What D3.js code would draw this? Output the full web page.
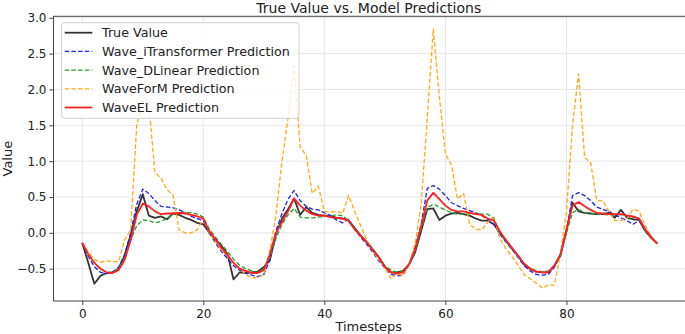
<!DOCTYPE html>
<html><head><meta charset="utf-8">
<script src="https://cdn.jsdelivr.net/npm/d3@7"></script>
<style>
html,body{margin:0;padding:0;background:#fff;}
svg{display:block;font-family:"DejaVu Sans",sans-serif;}
</style></head>
<body><svg id="c" width="685" height="334"></svg>
<script>
const timesteps = d3.range(0, 96);
const trueValue = [-0.14,-0.42,-0.71,-0.6,-0.56,-0.55,-0.5,-0.32,-0.03,0.3,0.54,0.24,0.21,0.23,0.19,0.27,0.25,0.21,0.18,0.14,0.12,0.0,-0.09,-0.18,-0.3,-0.65,-0.55,-0.56,-0.55,-0.54,-0.48,-0.38,-0.02,0.2,0.33,0.48,0.25,0.36,0.28,0.25,0.24,0.24,0.21,0.2,0.17,0.07,-0.04,-0.13,-0.23,-0.34,-0.47,-0.55,-0.55,-0.53,-0.44,-0.27,0.03,0.33,0.34,0.18,0.24,0.27,0.28,0.26,0.24,0.2,0.17,0.17,0.12,0.0,-0.11,-0.22,-0.32,-0.44,-0.5,-0.54,-0.55,-0.55,-0.46,-0.32,0.03,0.42,0.3,0.28,0.27,0.26,0.26,0.28,0.21,0.32,0.21,0.19,0.18,0.03,-0.07,-0.15];
const iTransformer = [-0.14,-0.33,-0.47,-0.55,-0.57,-0.55,-0.48,-0.3,0.0,0.4,0.61,0.55,0.45,0.37,0.36,0.35,0.32,0.28,0.23,0.2,0.17,0.0,-0.14,-0.26,-0.36,-0.46,-0.52,-0.56,-0.59,-0.61,-0.58,-0.38,0.03,0.27,0.47,0.59,0.45,0.37,0.33,0.32,0.28,0.24,0.18,0.14,0.19,0.05,-0.06,-0.16,-0.27,-0.39,-0.49,-0.58,-0.6,-0.59,-0.44,-0.2,0.12,0.62,0.66,0.61,0.52,0.42,0.38,0.34,0.31,0.28,0.24,0.19,0.12,-0.02,-0.13,-0.23,-0.34,-0.46,-0.53,-0.58,-0.59,-0.58,-0.48,-0.3,0.03,0.52,0.56,0.52,0.45,0.36,0.33,0.3,0.25,0.21,0.17,0.12,0.17,0.03,-0.07,-0.15];
const dLinear = [-0.14,-0.3,-0.42,-0.5,-0.55,-0.55,-0.5,-0.35,-0.1,0.1,0.18,0.17,0.14,0.16,0.2,0.26,0.28,0.29,0.28,0.26,0.22,0.05,-0.06,-0.16,-0.26,-0.37,-0.45,-0.5,-0.53,-0.55,-0.5,-0.35,-0.08,0.12,0.25,0.34,0.22,0.21,0.21,0.22,0.23,0.24,0.25,0.24,0.17,0.07,-0.04,-0.13,-0.23,-0.34,-0.46,-0.52,-0.55,-0.53,-0.44,-0.25,0.05,0.35,0.4,0.36,0.32,0.28,0.26,0.26,0.27,0.27,0.26,0.26,0.2,0.0,-0.11,-0.22,-0.32,-0.43,-0.49,-0.53,-0.54,-0.53,-0.45,-0.3,0.0,0.28,0.33,0.28,0.27,0.26,0.26,0.25,0.25,0.25,0.24,0.22,0.2,0.03,-0.07,-0.15];
const waveForM = [-0.14,-0.27,-0.37,-0.41,-0.39,-0.4,-0.4,-0.1,0.05,1.5,1.85,1.8,0.84,0.77,0.6,0.53,0.04,0.0,0.0,0.04,0.2,0.0,-0.12,-0.24,-0.33,-0.42,-0.5,-0.58,-0.63,-0.62,-0.58,-0.25,0.25,1.0,1.6,2.33,1.2,1.08,0.55,0.65,0.3,0.29,0.3,0.27,0.52,0.3,0.1,-0.1,-0.25,-0.37,-0.48,-0.64,-0.57,-0.6,-0.45,-0.15,0.4,1.6,2.84,1.9,1.1,0.95,0.47,0.55,0.12,0.05,0.04,0.15,0.22,-0.08,-0.22,-0.33,-0.45,-0.58,-0.64,-0.7,-0.77,-0.73,-0.73,-0.3,0.3,1.5,2.22,1.05,0.98,0.45,0.45,0.3,0.17,0.17,0.2,0.33,0.3,0.1,-0.05,-0.15];
const waveEL = [-0.14,-0.3,-0.42,-0.5,-0.55,-0.56,-0.52,-0.38,-0.1,0.25,0.41,0.37,0.3,0.26,0.27,0.27,0.28,0.27,0.25,0.23,0.2,0.02,-0.09,-0.21,-0.31,-0.42,-0.5,-0.53,-0.56,-0.56,-0.52,-0.3,0.0,0.15,0.3,0.48,0.38,0.31,0.26,0.24,0.24,0.22,0.21,0.2,0.17,0.05,-0.04,-0.13,-0.24,-0.34,-0.48,-0.55,-0.57,-0.55,-0.44,-0.22,0.1,0.45,0.56,0.47,0.38,0.32,0.3,0.3,0.28,0.26,0.25,0.2,0.17,0.02,-0.1,-0.21,-0.32,-0.43,-0.5,-0.54,-0.55,-0.55,-0.46,-0.3,0.05,0.38,0.43,0.37,0.32,0.28,0.27,0.26,0.26,0.26,0.24,0.23,0.2,0.05,-0.06,-0.15];
const xTicks = [0, 20, 40, 60, 80];
const yTicks = [-0.5, 0.0, 0.5, 1.0, 1.5, 2.0, 2.5, 3.0];
const seriesNames = ["True Value","Wave_iTransformer Prediction","Wave_DLinear Prediction","WaveForM Prediction","WaveEL Prediction"];
const seriesData = [trueValue, iTransformer, dLinear, waveForM, waveEL];
const seriesColors = ["#333333","#1f1ff0","#2e9a2e","#ffaa1a","#ff2020"];
const seriesDash = [null,"4.5,2.2","4.5,2.2","4.5,2.2",null];
const seriesWidth = [1.8,1.3,1.3,1.3,1.8];
const titleText = "True Value vs. Model Predictions";
const xLabel = "Timesteps", yLabel = "Value";

const svg = d3.select("#c");
const L = 53.5, R = 686, T = 16.3, B = 301;
const allVals = seriesData.flat();
const yMin = d3.min(allVals), yMax = d3.max(allVals), yr = yMax - yMin;
const xr = d3.max(timesteps) - d3.min(timesteps);
const x = d3.scaleLinear().domain([-0.05*xr, d3.max(timesteps)+0.05*xr]).range([L, R]);
const y = d3.scaleLinear().domain([yMin-0.05*yr, yMax+0.05*yr]).range([B, T]);

// grid
const g = svg.append("g");
g.selectAll(".gx").data(xTicks).join("line")
 .attr("x1", d=>x(d)).attr("x2", d=>x(d)).attr("y1", T).attr("y2", B)
 .attr("stroke", "#e6e6e6").attr("stroke-width", 1);
g.selectAll(".gy").data(yTicks).join("line")
 .attr("x1", L).attr("x2", R).attr("y1", d=>y(d)).attr("y2", d=>y(d))
 .attr("stroke", "#e6e6e6").attr("stroke-width", 1);

// lines
const clip = svg.append("clipPath").attr("id","clp").append("rect").attr("x",L).attr("y",T).attr("width",R-L).attr("height",B-T);
const line = d3.line().x((d,i)=>x(timesteps[i])).y(d=>y(d));
seriesData.forEach((s, k) => {
  svg.append("path").attr("d", line(s)).attr("fill","none")
    .attr("stroke", seriesColors[k]).attr("stroke-width", seriesWidth[k])
    .attr("stroke-dasharray", seriesDash[k]).attr("stroke-linejoin","round")
    .attr("clip-path","url(#clp)");
});

// axes
const fmt = d => d < 0 ? "\u2212" + Math.abs(d).toFixed(1) : d.toFixed(1);
const xa = svg.append("g").attr("transform", `translate(0,${B})`)
  .call(d3.axisBottom(x).tickValues(xTicks).tickSize(4).tickPadding(4).tickFormat(d3.format("d")));
const ya = svg.append("g").attr("transform", `translate(${L},0)`)
  .call(d3.axisLeft(y).tickValues(yTicks).tickSize(4).tickPadding(3).tickFormat(fmt));
[xa, ya].forEach(a => {
  a.select(".domain").remove();
  a.selectAll("line").attr("stroke", "#444");
  a.selectAll("text").attr("font-size", 12).attr("fill", "#222").attr("font-family","DejaVu Sans");
});
svg.append("rect").attr("x", L).attr("y", T).attr("width", R-L).attr("height", B-T)
  .attr("fill","none").attr("stroke","#444").attr("stroke-width",1);

// legend
const lg = svg.append("g");
lg.append("rect").attr("x", 61.5).attr("y", 22.7).attr("width", 237.5).attr("height", 95.6)
  .attr("rx", 3).attr("fill", "white").attr("fill-opacity", 0.8).attr("stroke", "#d0d0d0");
seriesNames.forEach((n, k) => {
  const cy = 32.7 + k*18.7;
  lg.append("line").attr("x1", 64.7).attr("x2", 92.3).attr("y1", cy).attr("y2", cy)
    .attr("stroke", seriesColors[k]).attr("stroke-width", seriesWidth[k]).attr("stroke-dasharray", seriesDash[k]);
  lg.append("text").attr("x", 102).attr("y", cy).attr("dy","0.35em")
    .attr("font-size", 12.7).attr("fill","#222").text(n);
});

// titles
svg.append("text").attr("x", (L+R)/2 - 1).attr("y", 12.5).attr("text-anchor","middle")
  .attr("font-size", 14).attr("fill","#222").text(titleText);
svg.append("text").attr("x", (L+R)/2 - 1).attr("y", 331).attr("text-anchor","middle")
  .attr("font-size", 13).attr("fill","#222").text(xLabel);
svg.append("text").attr("transform", `translate(12,${(T+B)/2}) rotate(-90)`).attr("text-anchor","middle")
  .attr("font-size", 13).attr("fill","#222").text(yLabel);
</script></body></html>
